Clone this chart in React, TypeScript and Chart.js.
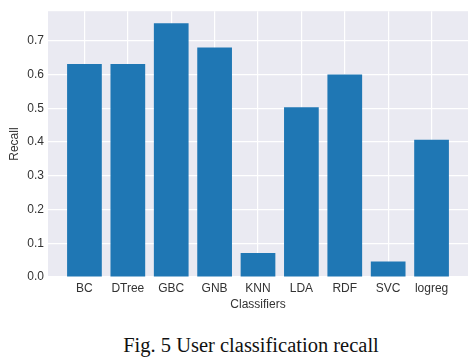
import React, { useEffect, useRef } from 'react';
import { Chart, registerables } from 'chart.js';

Chart.register(...registerables);

const categories = ['BC', 'DTree', 'GBC', 'GNB', 'KNN', 'LDA', 'RDF', 'SVC', 'logreg'];
const recall = [0.631, 0.631, 0.752, 0.68, 0.071, 0.503, 0.6, 0.046, 0.407];
const yTickValues = [0, 0.1, 0.2, 0.3, 0.4, 0.5, 0.6, 0.7];
const yMax = 0.7875;
const xTitle = 'Classifiers';
const yTitle = 'Recall';
const caption = 'Fig. 5 User classification recall';

const CANVAS_W = 474;
const CANVAS_H = 318;
const PLOT_BOTTOM = 277;

const bgPlugin = {
  id: 'plotBg',
  beforeDraw(chart: any) {
    const { ctx, chartArea } = chart;
    ctx.save();
    ctx.fillStyle = '#EAEAF2';
    ctx.fillRect(chartArea.left, chartArea.top, chartArea.right - chartArea.left, chartArea.bottom - chartArea.top);
    ctx.restore();
  },
};

export default function App() {
  const ref = useRef<HTMLCanvasElement | null>(null);

  useEffect(() => {
    if (!ref.current) return;
    const font = { family: '"Liberation Sans", Arial, sans-serif', size: 12 };
    const chart = new Chart(ref.current, {
      type: 'bar',
      data: {
        datasets: [
          {
            data: categories.map((_, i) => ({ x: i, y: recall[i] })),
            backgroundColor: '#1f77b4',
            borderWidth: 0,
            barPercentage: 0.8,
            categoryPercentage: 1,
          },
        ],
      },
      options: {
        animation: false,
        responsive: false,
        devicePixelRatio: 1,
        layout: { padding: { left: 0, right: 6, top: 5, bottom: 0 } },
        plugins: { legend: { display: false }, tooltip: { enabled: false } },
        scales: {
          x: {
            type: 'linear',
            offset: false,
            min: -0.84,
            max: 8.84,
            afterBuildTicks: (s: any) => {
              s.ticks = categories.map((_, i) => ({ value: i }));
            },
            afterFit: (s: any) => {
              s.height = CANVAS_H - PLOT_BOTTOM;
            },
            ticks: {
              autoSkip: false,
              maxRotation: 0,
              padding: 4,
              color: '#333',
              font,
              callback: (v: any) => categories[Math.round(Number(v))] ?? '',
            },
            grid: { color: '#ffffff', lineWidth: 1.2, drawTicks: false, offset: false },
            border: { display: false },
            title: { display: true, text: xTitle, color: '#333', font, padding: { top: 0, bottom: 6 } },
          },
          y: {
            min: 0,
            max: yMax,
            afterBuildTicks: (s: any) => {
              s.ticks = yTickValues.map((v) => ({ value: v }));
            },
            afterFit: (s: any) => {
              s.width = 48;
            },
            ticks: {
              padding: 4,
              color: '#333',
              font,
              callback: (v: any) => Number(v).toFixed(1),
            },
            grid: { color: '#ffffff', lineWidth: 1.2, drawTicks: false },
            border: { display: false },
            title: { display: true, text: yTitle, color: '#333', font, padding: { top: 7, bottom: 0 } },
          },
        },
      },
      plugins: [bgPlugin],
    } as any);
    return () => chart.destroy();
  }, []);

  return (
    <div style={{ position: 'absolute', left: 0, top: 0, width: CANVAS_W, height: 359, background: '#fff' }}>
      <canvas ref={ref} width={CANVAS_W} height={CANVAS_H} style={{ display: 'block', width: CANVAS_W, height: CANVAS_H }} />
      <div
        style={{
          position: 'absolute',
          left: 0,
          top: 334,
          width: 502,
          textAlign: 'center',
          fontFamily: '"Liberation Serif", "Times New Roman", serif',
          fontSize: 20.5,
          color: '#111',
          lineHeight: 'normal',
        }}
      >
        {caption}
      </div>
    </div>
  );
}
